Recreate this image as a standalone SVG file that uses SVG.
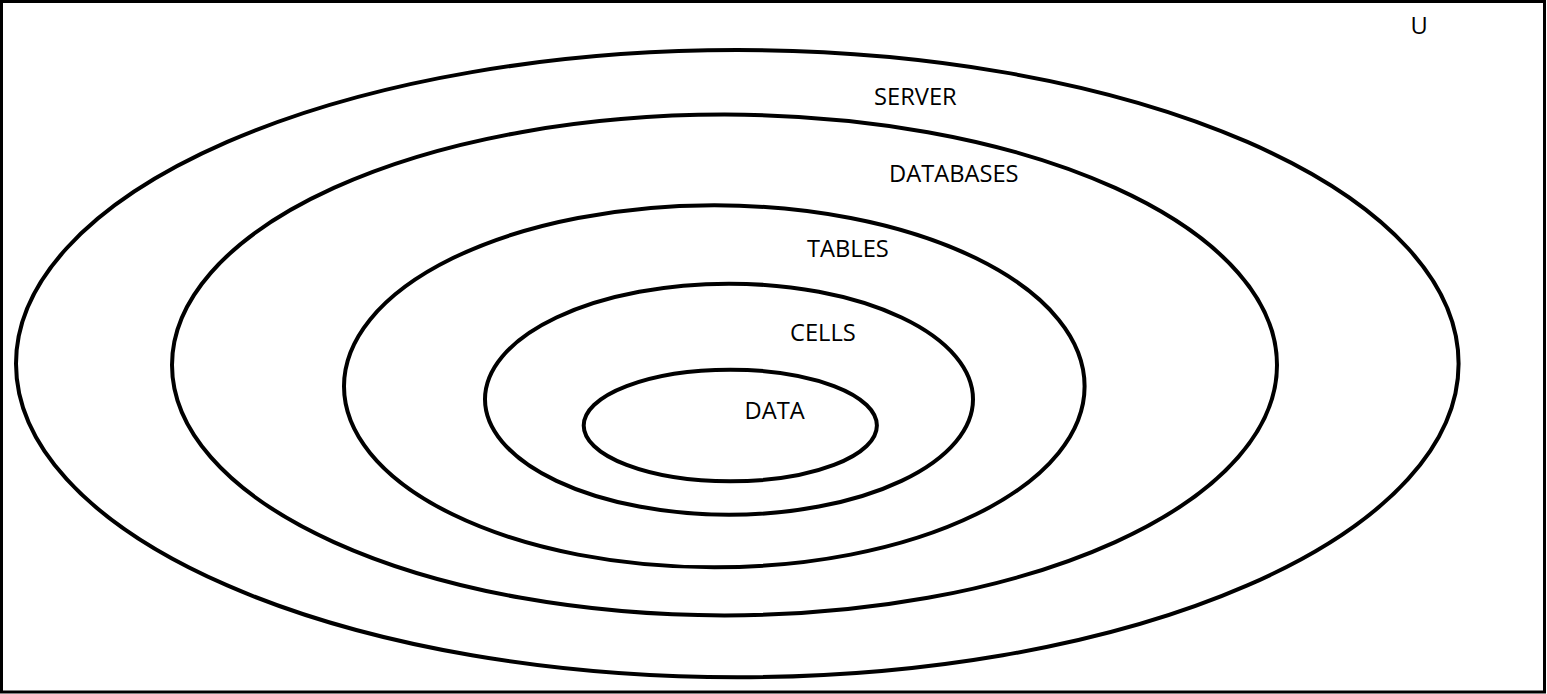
<svg xmlns="http://www.w3.org/2000/svg" width="1547" height="694" viewBox="0 0 1547 694">
<style>
.set{fill:none;stroke:#000;stroke-width:4}
.lbl{font-family:"Open Sans","Liberation Sans",sans-serif;font-size:23.7px;fill:#000}
</style>
<rect x="0" y="0" width="1547" height="694" fill="#fff"/>
<rect x="1.5" y="1.5" width="1543" height="690.5" fill="none" stroke="#000" stroke-width="3"/>
<g id="universe"><text class="lbl" x="1410.5" y="33.5">U</text></g>
<g id="server"><ellipse class="set" cx="737.3" cy="363.7" rx="721.3" ry="313.6"/><text class="lbl" x="874" y="104.5">SERVER</text></g>
<g id="databases"><ellipse class="set" cx="724.5" cy="365" rx="552.5" ry="250.4"/><text class="lbl" x="889" y="182">DATABASES</text></g>
<g id="tables"><ellipse class="set" cx="714.3" cy="386.3" rx="370.3" ry="181"/><text class="lbl" x="807" y="257">TABLES</text></g>
<g id="cells"><ellipse class="set" cx="729" cy="399.2" rx="244" ry="115.5"/><text class="lbl" x="790" y="341">CELLS</text></g>
<g id="data"><ellipse class="set" cx="730.3" cy="425.5" rx="146.6" ry="55.8"/><text class="lbl" x="744.5" y="418.5">DATA</text></g>
<g id="connectors"></g>
</svg>
